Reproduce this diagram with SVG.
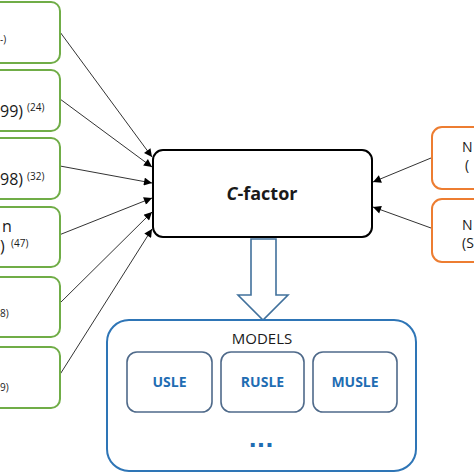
<svg xmlns="http://www.w3.org/2000/svg" width="474" height="474" viewBox="0 0 474 474">
<defs>
<style>
.green{fill:#fff;stroke:#70AD47;stroke-width:2}
.orange{fill:#fff;stroke:#ED7D31;stroke-width:2}
.t{font-family:"Open Sans","Noto Sans",sans-serif;fill:#1a1a1a}
.sup{font-size:10px}
.big{font-size:16px}
.con{stroke:#333;stroke-width:1;fill:none;marker-end:url(#ah)}
.inner{fill:#fff;stroke:#4F6A8A;stroke-width:1.6}
.mt{font-family:"Open Sans","Noto Sans",sans-serif;font-weight:bold;font-size:14px;fill:#1F6DB3;text-anchor:middle}
</style>
<marker id="ah" viewBox="0 0 10 10" refX="10" refY="5" markerWidth="10" markerHeight="8" markerUnits="userSpaceOnUse" orient="auto">
<path d="M0,0 L10,5 L0,10 z" fill="#000"/>
</marker>
</defs>
<rect width="474" height="474" fill="#fff"/>

<g id="connectors">
<line class="con" x1="60" y1="32" x2="152" y2="157"/>
<line class="con" x1="60" y1="99" x2="152" y2="167"/>
<line class="con" x1="60" y1="166" x2="152" y2="183"/>
<line class="con" x1="59" y1="235" x2="152" y2="198"/>
<line class="con" x1="59" y1="304" x2="152" y2="212"/>
<line class="con" x1="59" y1="376" x2="152" y2="229"/>
<line class="con" x1="431" y1="158" x2="373" y2="182"/>
<line class="con" x1="431" y1="228" x2="373" y2="207"/>
</g>

<g id="src1">
<rect class="green" x="-100" y="2" width="160" height="61" rx="9"/>
<text class="t sup" x="0" y="43" fill="#444">-)</text>
</g>
<g id="src2">
<rect class="green" x="-100" y="70" width="160" height="61" rx="9"/>
<text class="t big" x="0" y="117">99)</text>
<text class="t sup" x="27" y="111">(24)</text>
</g>
<g id="src3">
<rect class="green" x="-100" y="138" width="160" height="61" rx="9"/>
<text class="t big" x="0" y="185">98)</text>
<text class="t sup" x="27" y="180">(32)</text>
</g>
<g id="src4">
<rect class="green" x="-100" y="207" width="160" height="60" rx="9"/>
<text class="t big" x="2" y="232">n</text>
<text class="t big" x="0" y="252">)</text>
<text class="t sup" x="11" y="247">(47)</text>
</g>
<g id="src5">
<rect class="green" x="-100" y="277" width="160" height="60" rx="9"/>
<text class="t sup" x="0" y="317" fill="#444">8)</text>
</g>
<g id="src6">
<rect class="green" x="-100" y="347" width="160" height="61" rx="9"/>
<text class="t sup" x="0" y="391" fill="#444">9)</text>
</g>

<g id="cfactor">
<rect x="153" y="150" width="219" height="87" rx="10" fill="#fff" stroke="#000" stroke-width="2"/>
<text class="t" x="262" y="200" font-size="18" font-weight="bold" text-anchor="middle"><tspan font-style="italic">C</tspan>-factor</text>
</g>

<g id="tgt1">
<rect class="orange" x="432" y="127" width="100" height="62" rx="10"/>
<text class="t" font-size="14"><tspan x="462" y="152">N</tspan><tspan x="465" y="170">(</tspan></text>
</g>
<g id="tgt2">
<rect class="orange" x="432" y="199" width="100" height="63" rx="10"/>
<text class="t" font-size="14"><tspan x="462" y="230">N</tspan><tspan x="462" y="248">(S</tspan></text>
</g>

<g id="down-arrow">
<polygon points="251,239 276,239 276,295 288,295 263,320 238,295 251,295" fill="#fff" stroke="#41719C" stroke-width="1.6"/>
</g>

<g id="models">
<rect x="107" y="320" width="309" height="151" rx="22" fill="#fff" stroke="#2E75B6" stroke-width="2"/>
<text class="t" x="262" y="344" font-size="15" text-anchor="middle">MODELS</text>
<g id="usle">
<rect class="inner" x="127" y="352" width="85" height="60" rx="10"/>
<text class="mt" x="169.5" y="387">USLE</text>
</g>
<g id="rusle">
<rect class="inner" x="221" y="352" width="83" height="60" rx="10"/>
<text class="mt" x="262.5" y="387">RUSLE</text>
</g>
<g id="musle">
<rect class="inner" x="313" y="352" width="84" height="60" rx="10"/>
<text class="mt" x="355" y="387">MUSLE</text>
</g>
<text x="261" y="447" font-family="'DejaVu Sans',sans-serif" font-weight="bold" font-size="22" fill="#1F6DB3" text-anchor="middle">...</text>
</g>
</svg>
